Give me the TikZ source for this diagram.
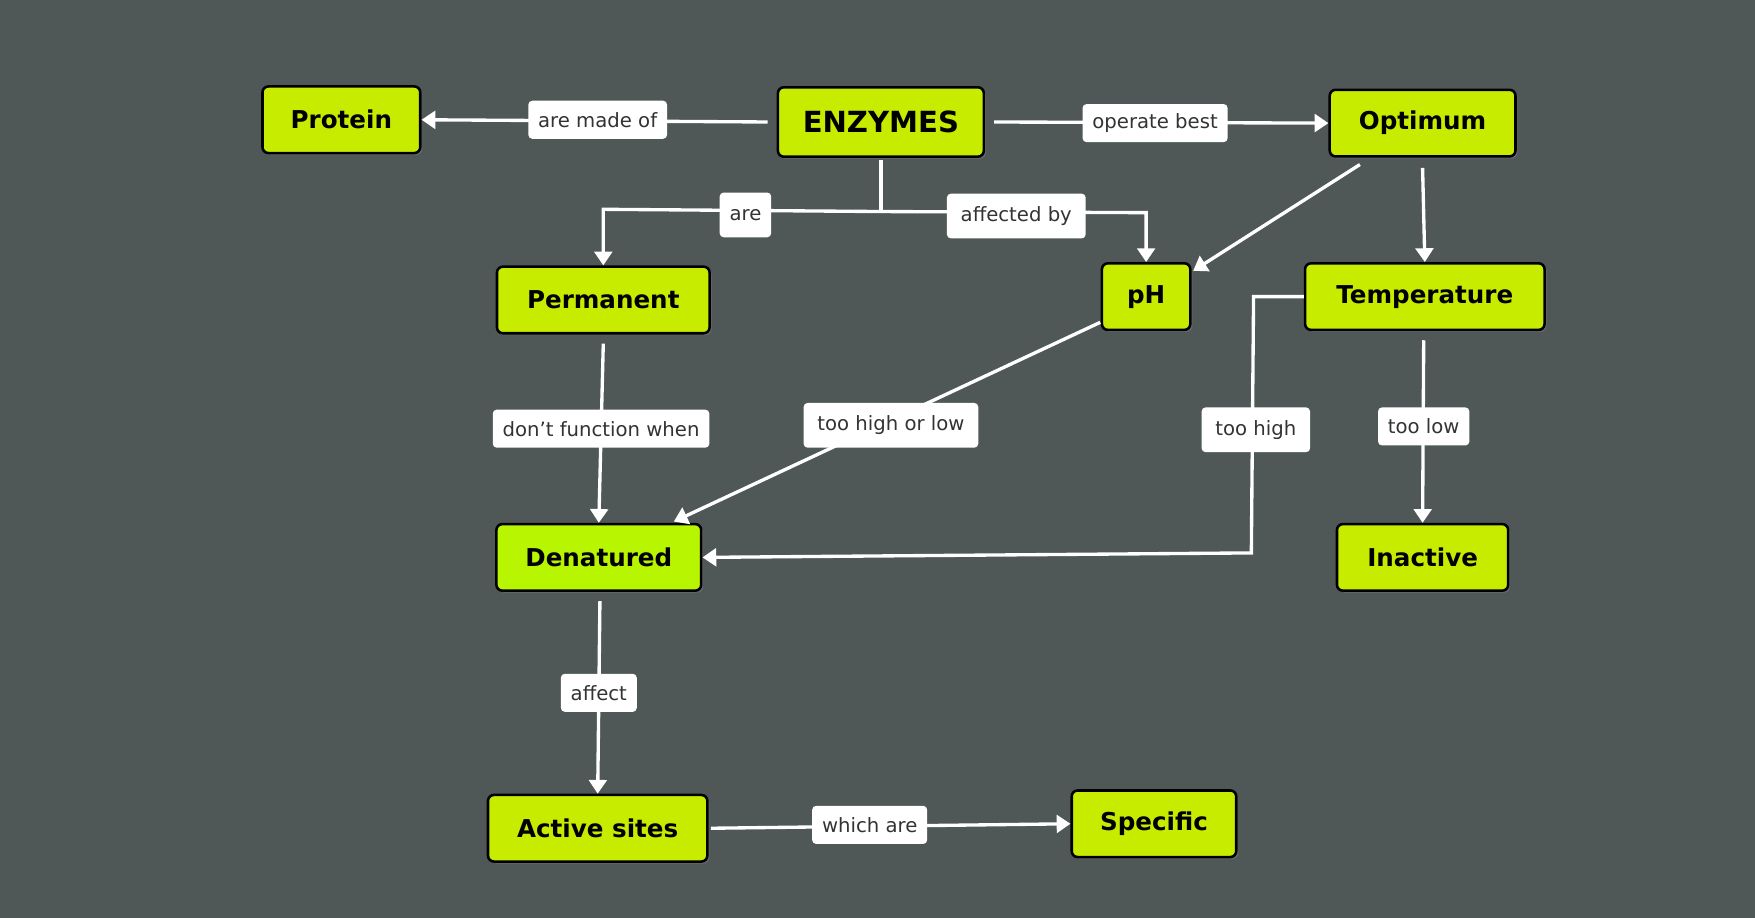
\documentclass[tikz,border=0pt]{standalone}
\usepackage{fontspec}
\setmainfont{DejaVu Sans}
\usetikzlibrary{arrows.meta,shadows}
\definecolor{bg}{HTML}{4F5757}
\definecolor{lime}{HTML}{C8EC00}
\definecolor{lime2}{HTML}{B8F500}
\definecolor{lab}{HTML}{333333}
\tikzset{
 cbox/.style={draw=black,line width=1.3pt,fill=lime,rounded corners=3pt,minimum height=1.19cm,font=\fontsize{12.5}{14}\selectfont\bfseries,drop shadow={shadow xshift=1pt,shadow yshift=-1pt,opacity=0.5}},
 lbl/.style={fill=white,rounded corners=2pt,text=lab,font=\fontsize{10}{12}\selectfont,inner xsep=5pt,minimum height=0.68cm},
 conn/.style={white,line width=1.7pt,-{Triangle[length=7pt,width=9pt]}},
 lin/.style={white,line width=1.7pt}
}
\begin{document}
\begin{tikzpicture}[x=0.02cm,y=-0.02cm]
\fill[bg] (0,0) rectangle (1568,820);
\useasboundingbox (0,0) rectangle (1568,820);
\node[cbox,minimum width=2.82cm] (prot) at (305,107) {Protein};
\node[cbox,minimum width=3.68cm,minimum height=1.24cm,font=\fontsize{14.8}{16}\selectfont\bfseries] (enz) at (787,109) {ENZYMES};
\node[cbox,minimum width=3.32cm] (opt) at (1271,110) {Optimum};
\node[cbox,minimum width=3.8cm] (perm) at (539,268) {Permanent};
\node[cbox,minimum width=1.58cm] (ph) at (1024,265) {pH};
\node[cbox,minimum width=4.28cm] (temp) at (1273,265) {Temperature};
\node[cbox,fill=lime2,minimum width=3.66cm] (den) at (535,498) {Denatured};
\node[cbox,minimum width=3.06cm] (inac) at (1271,498) {Inactive};
\node[cbox,minimum width=3.92cm] (act) at (534,740) {Active sites};
\node[cbox,minimum width=2.94cm] (spec) at (1031,736) {Specific};
% connectors
\coordinate (e1) at (787,189);
\draw[conn] (enz.west) ++(-8,0) -- (prot.east);
\draw[conn] (enz.east) ++(8,0) -- (opt.west);
\draw[lin] (enz.south) ++(0,2) -- (e1);
\draw[conn] (e1) -- (539,187) -- (perm.north);
\draw[conn] (e1) -- (1024,190) -- (ph.north);
\draw[conn] (1215,147) -- (1066,242);
\draw[conn] (1271,150) -- (temp.north);
\draw[conn] (539,307) -- (den.north);
\draw[conn] (983,288) -- (602,466);
\draw[conn] (temp.west) -- (1120,265) -- (1118,494) -- (den.east);
\draw[conn] (1272,304) -- (inac.north);
\draw[conn] (536,537) -- (act.north);
\draw[conn] (act.east) ++(2,0) -- (spec.west);
% labels
\node[lbl] (l1) at (534,107) {are made of};
\node[lbl] (l2) at (1032,110) {operate best};
\node[lbl,minimum height=0.8cm] (l3) at (666,192) {are};
\node[lbl,minimum height=0.8cm,inner xsep=7pt] (l4) at (908,193) {affected by};
\node[lbl] (l5) at (537,383) {don\char"0027 t function when};
\node[lbl,minimum height=0.8cm,inner xsep=7pt] (l6) at (796,380) {too high or low};
\node[lbl,minimum height=0.8cm,inner xsep=7pt] (l7) at (1122,384) {too high};
\node[lbl] (l8) at (1272,381) {too low};
\node[lbl] (l9) at (535,619) {affect};
\node[lbl] (l10) at (777,737) {which are};
\end{tikzpicture}
\end{document}
